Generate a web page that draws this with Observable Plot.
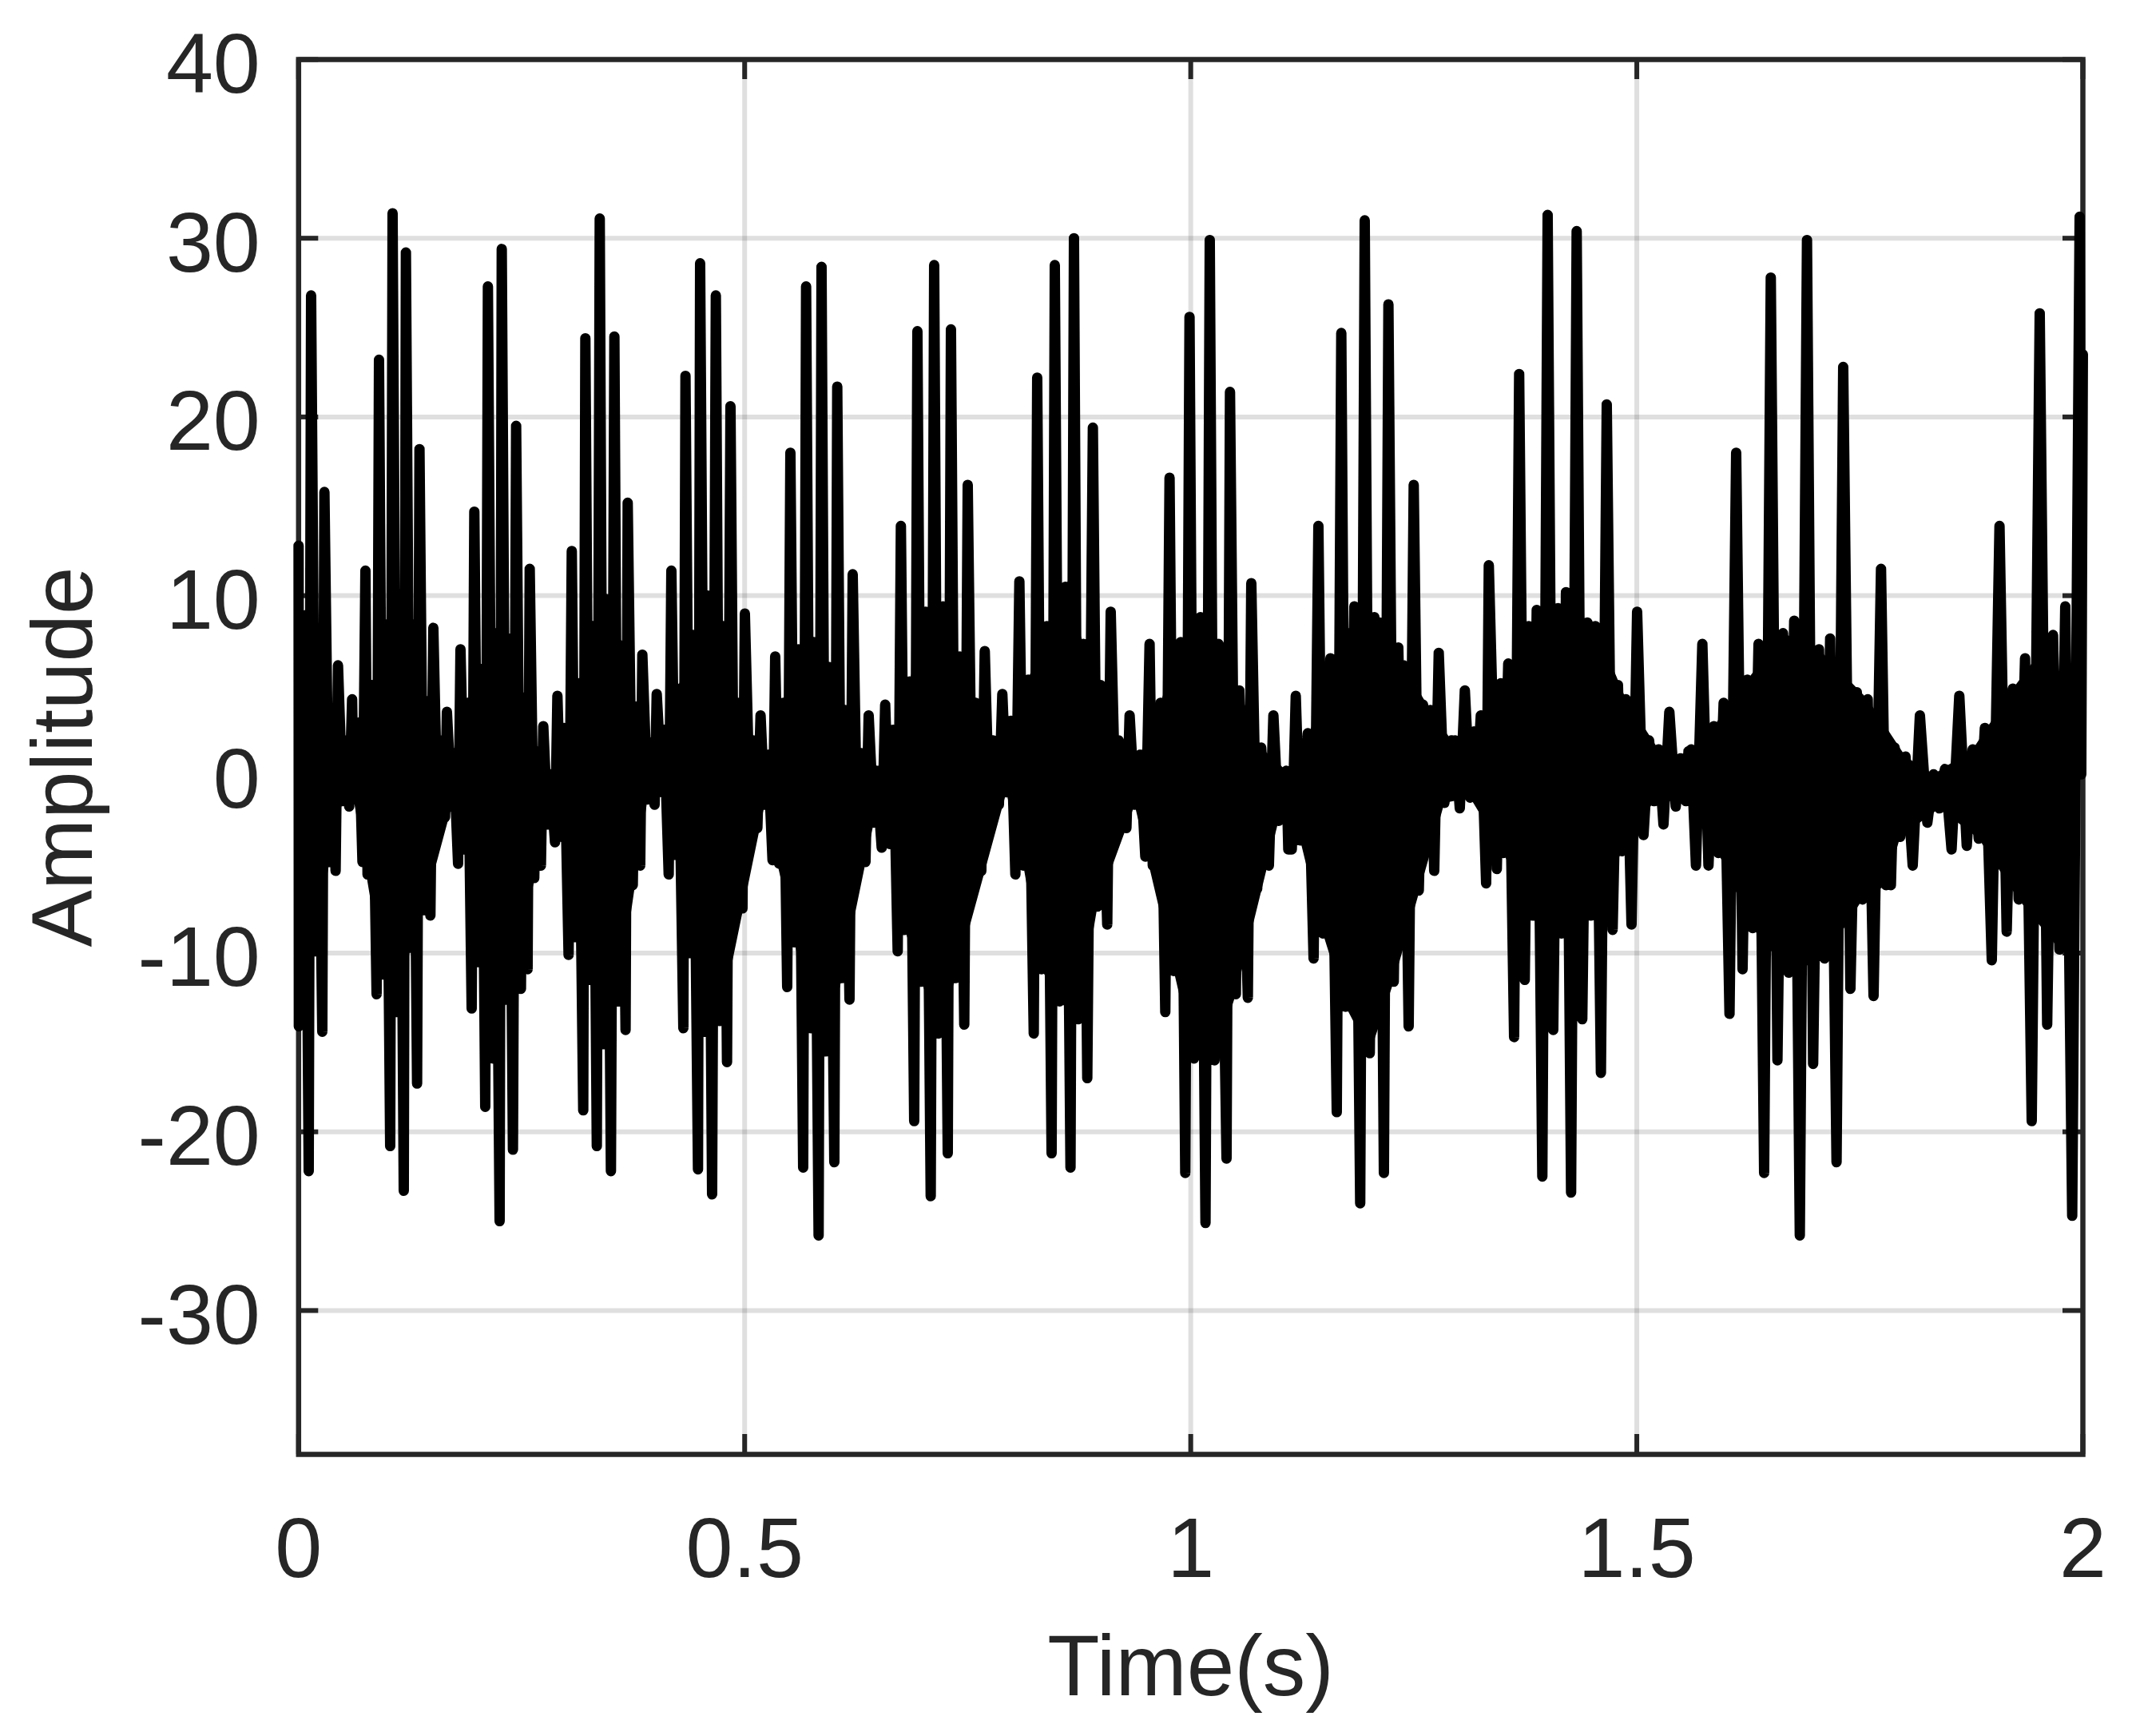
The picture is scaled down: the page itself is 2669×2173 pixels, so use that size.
<!DOCTYPE html>
<html>
<head>
<meta charset="utf-8">
<script src="https://cdn.jsdelivr.net/npm/d3@7"></script>
<script src="https://cdn.jsdelivr.net/npm/@observablehq/plot@0.6"></script>
<style>
html,body{margin:0;padding:0;background:#fff;}
svg{display:block;}
</style>
</head>
<body>
<div id="chart"></div>
<script>
// Recording: sampleRate samples per second, split in blocks of blockLength samples.
// Each pair is [sample within block, amplitude] of a local extreme.
const sampleRate = 3350.55;
const blockLength = 750;
const blockLead = 25;

const upper0 = [[25,12.8],[48,8.9],[72,26.8],[97,6.8],[122,15.8],[147,3.6],[173,6.1],[200,1.9],[226,4.2],[250,2.9],[276,11.4],[300,5],[327,23.2],[352,8.4],[378,31.4],[405,10.1],[428,29.2],[455,8.4],[479,18.2],[505,4.1],[531,8.2],[557,1.9],[582,3.5],[607,1.2],[633,7],[660,4],[685,14.7],[712,5.9],[736,27.3]];
const lower0 = [[26,-14.1],[63,-22.2],[90,-9.9],[114,-14.4],[140,-4.9],[164,-5.4],[190,-1.5],[215,-1.8],[232,-1.4],[265,-4.9],[284,-5.6],[318,-12.3],[342,-11.2],[369,-20.8],[395,-13.3],[420,-23.3],[445,-9.7],[470,-17.3],[495,-7.6],[520,-7.9],[548,-3.4],[575,-2.4],[600,-1.8],[624,-5],[650,-4.2],[675,-13.1],[700,-10.5],[726,-18.6]];

const upper1 = [[12,7.9],[38,29.4],[65,7.6],[92,19.5],[118,4.3],[143,11.5],[168,1.3],[194,2.7],[220,0],[247,4.4],[272,2.6],[301,12.5],[325,5.1],[352,24.4],[380,8.3],[406,31.1],[432,9.8],[461,24.5],[487,7.2],[511,15.2],[540,3.8],[566,6.7],[592,1.8],[620,4.5],[648,2.5],[675,11.4],[700,4.8],[728,22.3]];
const lower1 = [[5,-15.9],[30,-25],[55,-12.6],[80,-21],[110,-12],[135,-10.9],[160,-5.8],[185,-5.1],[210,-2.8],[238,-3.8],[262,-3.5],[289,-10.1],[315,-9.1],[344,-18.8],[368,-11.5],[395,-20.8],[420,-15.1],[448,-22.2],[475,-12.7],[503,-14.3],[530,-6.2],[558,-5.1],[585,-1.4],[612,-1.7],[640,-1],[665,-5.6],[690,-4.5],[720,-14.2],[745,-10]];

const upper2 = [[5,7.8],[33,28.6],[62,10],[92,26.8],[120,8.3],[147,20.6],[175,4],[201,9],[232,1.9],[260,3.3],[288,1.1],[315,6.6],[345,4],[372,18],[402,7],[431,27.3],[460,7.4],[489,28.4],[518,6],[548,21.7],[577,3.6],[606,11.2],[635,1.2],[666,3.3],[695,0.2],[728,3.9]];
const lower2 = [[25,-22.1],[52,-14.4],[78,-23.5],[108,-13.8],[134,-16.1],[162,-7.7],[192,-7.5],[222,-3.2],[248,-3],[275,-1.7],[305,-4.8],[330,-5],[360,-11.9],[388,-9.4],[420,-22],[448,-14.2],[478,-25.8],[505,-15.5],[537,-21.7],[565,-11.4],[594,-12.6],[625,-5.4],[654,-4.9],[685,-2.7],[715,-4.1],[745,-3.9]];

const upper3 = [[8,2.5],[37,13.9],[70,5.2],[99,24.8],[130,9.1],[162,28.5],[195,9.4],[225,24.9],[258,6.6],[288,16.2],[318,4],[352,6.9],[382,1.9],[418,4.5],[450,3],[482,10.8],[515,5.3],[549,22.2],[585,8.3],[615,28.5],[655,10.5],[687,30],[722,7.3]];
const lower3 = [[25,-9.9],[52,-8.7],[87,-19.4],[115,-11.6],[149,-23.6],[178,-14.5],[213,-21.2],[242,-11.4],[275,-14],[306,-5.5],[339,-5.4],[368,-1.8],[405,-1.7],[433,-1],[467,-5.6],[497,-5.1],[536,-14.5],[565,-10.9],[603,-21.2],[633,-12.7],[674,-22],[703,-13.7],[737,-17]];

const upper4 = [[8,19.4],[37,5],[75,9.1],[105,1.9],[146,3.3],[185,1.1],[221,7.3],[262,4],[296,16.6],[338,7.4],[371,25.6],[412,8.8],[447,29.9],[480,7.3],[523,21.4],[558,4.7],[603,10.7],[640,1.5],[686,3.3],[735,0.2]];
const lower4 = [[25,-7.4],[62,-8.4],[95,-3.2],[134,-3],[165,-1.7],[205,-4.6],[233,-5.1],[280,-13.3],[312,-11],[355,-22.3],[388,-15.9],[431,-25.1],[465,-16],[510,-21.5],[545,-12.3],[590,-12.5],[625,-6.4],[669,-5.1],[705,-2.6],[742,-4.2]];

const upper5 = [[20,4.4],[45,1.2],[65,2.3],[105,13.9],[130,4.8],[150,6.5],[191,24.7],[220,7.9],[240,9.4],[279,31],[315,8.8],[335,8.5],[368,26.3],[405,7.1],[425,6.1],[463,16.2],[498,3.9],[525,3.6],[557,6.8],[605,1.9],[618,1.9],[655,4.7],[690,2.4],[715,3.3],[745,11.7]];
const lower5 = [[5,-4.2],[37,-3.7],[87,-10.3],[122,-8.9],[174,-18.9],[208,-13],[262,-24],[298,-15.6],[351,-22.3],[388,-11.6],[444,-14.1],[482,-6.5],[540,-5.4],[578,-1.6],[636,-1.9],[675,-1.3],[735,-6.1]];

const upper6 = [[40,5.1],[68,6.2],[109,22.4],[145,8.3],[175,9.2],[216,31.3],[255,9.3],[285,10.2],[325,30.4],[365,8.5],[395,8.3],[438,20.7],[480,5],[510,4.2],[552,9.1],[597,1.9],[632,1.4],[673,3.5],[715,0.9],[745,1.3]];
const lower6 = [[25,-5.3],[50,-4.4],[90,-14.7],[130,-11.5],[160,-7.9],[196,-22.5],[237,-14.3],[268,-8.9],[304,-23.4],[346,-13.7],[378,-7.9],[416,-16.7],[460,-8.7],[495,-4.3],[531,-8.4],[576,-3.4],[615,-1.5],[651,-2.8],[697,-1.8],[735,-1.5]];

const upper7 = [[5,1.4],[47,7.3],[90,2.7],[127,4],[174,18],[216,5.3],[258,7.3],[304,27.8],[350,7.9],[392,8.6],[440,29.9],[485,7],[527,7.6],[576,22.8],[627,4.6],[668,4.2],[718,11.5]];
const lower7 = [[23,-5.1],[70,-5.1],[107,-4.4],[149,-13.4],[198,-10.9],[236,-8.6],[279,-22.3],[329,-16],[371,-11.1],[413,-25.8],[463,-16.2],[506,-10.3],[551,-21.7],[603,-12],[648,-7],[690,-12.4],[737,-6.2]];

const upper8 = [[19,1.5],[60,1],[114,3.3],[165,0],[208,0.3],[262,4.4],[312,1.4],[358,2.6],[413,13.9],[463,4.8],[509,6.5],[564,25.8],[614,7.8],[660,9.4],[714,31.2],[726,23.5]];
const lower8 = [[5,-6.2],[40,-3.5],[87,-5.1],[142,-2.7],[187,-1.9],[233,-4.2],[290,-4],[335,-3.6],[384,-10.4],[440,-8.8],[485,-7],[534,-19.4],[592,-14],[638,-9.8],[686,-24.7]];

const upperBlocks = [upper0,upper1,upper2,upper3,upper4,upper5,upper6,upper7,upper8];
const lowerBlocks = [lower0,lower1,lower2,lower3,lower4,lower5,lower6,lower7,lower8];

const xTicks = [0, 0.5, 1, 1.5, 2];
const yTicks = [-30, -20, -10, 0, 10, 20, 30, 40];
const xGrid = [0.5, 1, 1.5];
const yGrid = [-30, -20, -10, 0, 10, 20, 30];
const xDomain = [0, 2];
const yDomain = [-38.05, 40];

const toTime = (s, k) => Math.max(0, (s + k * blockLength - blockLead) / sampleRate);
const flatten = (blocks, up) => blocks
  .flatMap((b, k) => b.map(([s, v]) => ({t: toTime(s, k), v, up})))
  .sort((a, b) => a.t - b.t);
const uppers = flatten(upperBlocks, true);
const lowers = flatten(lowerBlocks, false);

const extremes = [...uppers, ...lowers].sort((a, b) => a.t - b.t);
// The trace swings through zero between two extremes on the same side.
const trace = [];
extremes.forEach((p, i) => {
  const q = extremes[i - 1];
  if (q && q.up === p.up) trace.push({t: (q.t + p.t) / 2, v: 0});
  trace.push(p);
});

// The solid core of the signal: it reaches the inner extremes on each side.
const innerUpper = uppers.filter((p, i, a) =>
  i > 0 && i < a.length - 1 && p.v <= a[i - 1].v && p.v <= a[i + 1].v);
const innerLower = lowers.filter((p, i, a) =>
  i > 0 && i < a.length - 1 && p.v >= a[i - 1].v && p.v >= a[i + 1].v);
const core = [...innerUpper, ...innerLower.slice().reverse()];

const W = 2669, H = 2173;
const mL = 373.3, mR = 62, mT = 74, mB = 353;
const inkColor = "#262626";
const tickLen = 25;
const fontSize = 106;
const labelSize = 107;

const chart = Plot.plot({
  width: W, height: H,
  marginLeft: mL, marginRight: mR, marginTop: mT, marginBottom: mB,
  style: {background: "#fff", fontFamily: "'Liberation Sans', Arial, sans-serif", overflow: "visible"},
  x: {domain: xDomain, label: null},
  y: {domain: yDomain, label: null},
  marks: [
    Plot.ruleX(xGrid, {stroke: inkColor, strokeOpacity: 0.15, strokeWidth: 6}),
    Plot.ruleY(yGrid, {stroke: inkColor, strokeOpacity: 0.15, strokeWidth: 6}),
    Plot.ruleY(yTicks, {stroke: inkColor, strokeWidth: 6, insetRight: W - mL - mR - tickLen}),
    Plot.ruleY(yTicks, {stroke: inkColor, strokeWidth: 6, insetLeft: W - mL - mR - tickLen}),
    Plot.ruleX(xTicks, {stroke: inkColor, strokeWidth: 6, insetTop: H - mT - mB - tickLen}),
    Plot.ruleX(xTicks, {stroke: inkColor, strokeWidth: 6, insetBottom: H - mT - mB - tickLen}),
    Plot.frame({stroke: inkColor, strokeWidth: 6.5}),
    Plot.axisY({ticks: yTicks, tickSize: 0, tickPadding: 48, dy: 7.5, fontSize, tickFormat: d => String(d), fill: inkColor, label: null, anchor: "left"}),
    Plot.axisX({ticks: xTicks, tickSize: 0, tickPadding: 78, fontSize, tickFormat: d => String(d), fill: inkColor, label: null, anchor: "bottom"}),
    Plot.text(["Time(s)"], {frameAnchor: "bottom", dy: 301, fontSize: labelSize, fill: inkColor}),
    Plot.text(["Amplitude"], {frameAnchor: "left", textAnchor: "middle", dx: -293, rotate: -90, fontSize: labelSize, fill: inkColor}),
    Plot.line(core, {x: "t", y: "v", fill: "#000", stroke: "none"}),
    Plot.line(trace, {x: "t", y: "v", stroke: "#000", strokeWidth: 13, strokeLinejoin: "round", strokeLinecap: "round", clip: false})
  ]
});
document.getElementById("chart").appendChild(chart);
</script>
</body>
</html>
